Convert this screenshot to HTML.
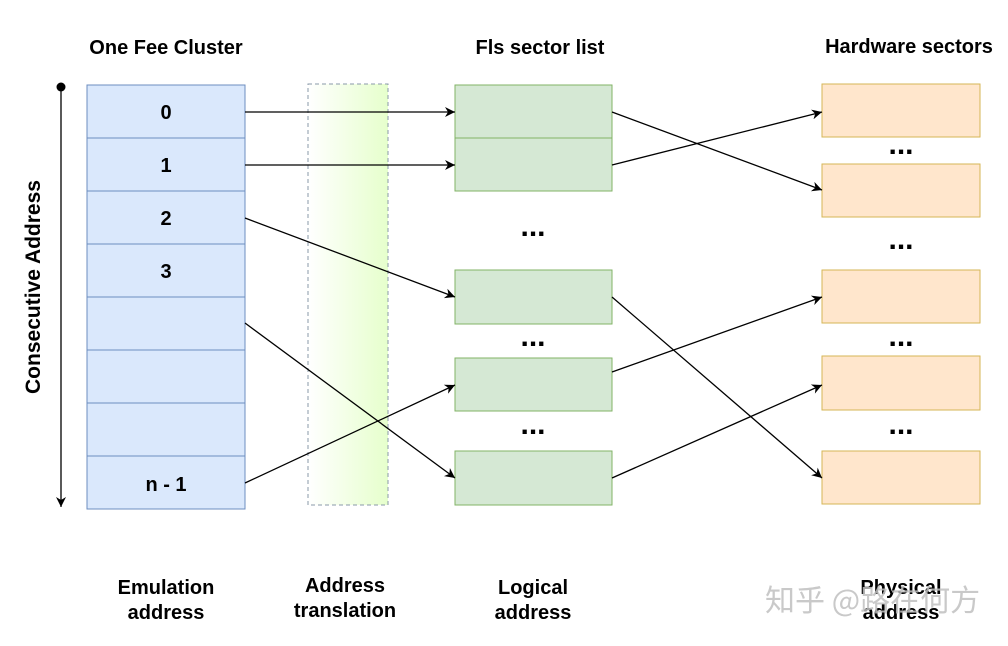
<!DOCTYPE html>
<html><head><meta charset="utf-8"><style>
body{margin:0;background:#fff;width:1008px;height:641px;overflow:hidden;font-family:"Liberation Sans",Arial,sans-serif}
</style></head><body>
<svg width="1008" height="641" xmlns="http://www.w3.org/2000/svg" font-family="Liberation Sans, Arial, sans-serif" font-weight="bold">
<defs>
<linearGradient id="g" x1="0" x2="1"><stop offset="0" stop-color="#fff"/><stop offset="1" stop-color="#e6ffcc"/></linearGradient>
<marker id="a" viewBox="0 0 10 10" refX="10" refY="5" markerWidth="12" markerHeight="10" orient="auto" markerUnits="userSpaceOnUse"><path d="M0,0 L10,5 L0,10 L3,5z" fill="#000"/></marker>
</defs>
<g font-size="20" text-anchor="middle" fill="#000">
<text x="166" y="54">One Fee Cluster</text>
<text x="540" y="54">Fls sector list</text>
<text x="909" y="53">Hardware sectors</text>
</g>
<rect x="308" y="84" width="80" height="421" fill="url(#g)" stroke="#8a9aa8" stroke-dasharray="4,3"/>
<g fill="#dae8fc" stroke="#6c8ebf">
<rect x="87" y="85" width="158" height="53"/><rect x="87" y="138" width="158" height="53"/>
<rect x="87" y="191" width="158" height="53"/><rect x="87" y="244" width="158" height="53"/>
<rect x="87" y="297" width="158" height="53"/><rect x="87" y="350" width="158" height="53"/>
<rect x="87" y="403" width="158" height="53"/><rect x="87" y="456" width="158" height="53"/>
</g>
<g font-size="20" text-anchor="middle">
<text x="166" y="119">0</text><text x="166" y="172">1</text><text x="166" y="225">2</text><text x="166" y="278">3</text><text x="166" y="491">n - 1</text>
</g>
<g fill="#d5e8d4" stroke="#82b366">
<rect x="455" y="85" width="157" height="53"/><rect x="455" y="138" width="157" height="53"/>
<rect x="455" y="270" width="157" height="54"/><rect x="455" y="358" width="157" height="53"/>
<rect x="455" y="451" width="157" height="54"/>
</g>
<g fill="#ffe6cc" stroke="#d6b656">
<rect x="822" y="84" width="158" height="53"/><rect x="822" y="164" width="158" height="53"/>
<rect x="822" y="270" width="158" height="53"/><rect x="822" y="356" width="158" height="54"/>
<rect x="822" y="451" width="158" height="53"/>
</g>
<g font-size="30" text-anchor="middle">
<text x="533" y="236">...</text><text x="533" y="346">...</text><text x="533" y="434">...</text>
<text x="901" y="154">...</text><text x="901" y="249">...</text><text x="901" y="346">...</text><text x="901" y="434">...</text>
</g>
<g stroke="#000" stroke-width="1.3" marker-end="url(#a)">
<line x1="245" y1="112" x2="455" y2="112"/>
<line x1="245" y1="165" x2="455" y2="165"/>
<line x1="245" y1="218" x2="455" y2="297"/>
<line x1="245" y1="323" x2="455" y2="478"/>
<line x1="245" y1="483" x2="455" y2="385"/>
<line x1="612" y1="112" x2="822" y2="190"/>
<line x1="612" y1="165" x2="822" y2="112"/>
<line x1="612" y1="297" x2="822" y2="478"/>
<line x1="612" y1="372" x2="822" y2="297"/>
<line x1="612" y1="478" x2="822" y2="385"/>
<line x1="61" y1="87" x2="61" y2="507"/>
</g>
<circle cx="61" cy="87" r="4.5" fill="#000"/>
<text transform="translate(40,287) rotate(-90)" font-size="21" text-anchor="middle">Consecutive Address</text>
<g font-size="20" text-anchor="middle">
<text x="166" y="594">Emulation</text><text x="166" y="619">address</text>
<text x="345" y="592">Address</text><text x="345" y="617">translation</text>
<text x="533" y="594">Logical</text><text x="533" y="619">address</text>
<text x="901" y="594">Physical</text><text x="901" y="619">address</text>
</g>
<text x="765" y="611" font-size="30" font-weight="normal" fill="#c0c0c0" fill-opacity="0.85" font-family="Noto Sans CJK SC, sans-serif">知乎 @路在何方</text>
</svg>
</body></html>
